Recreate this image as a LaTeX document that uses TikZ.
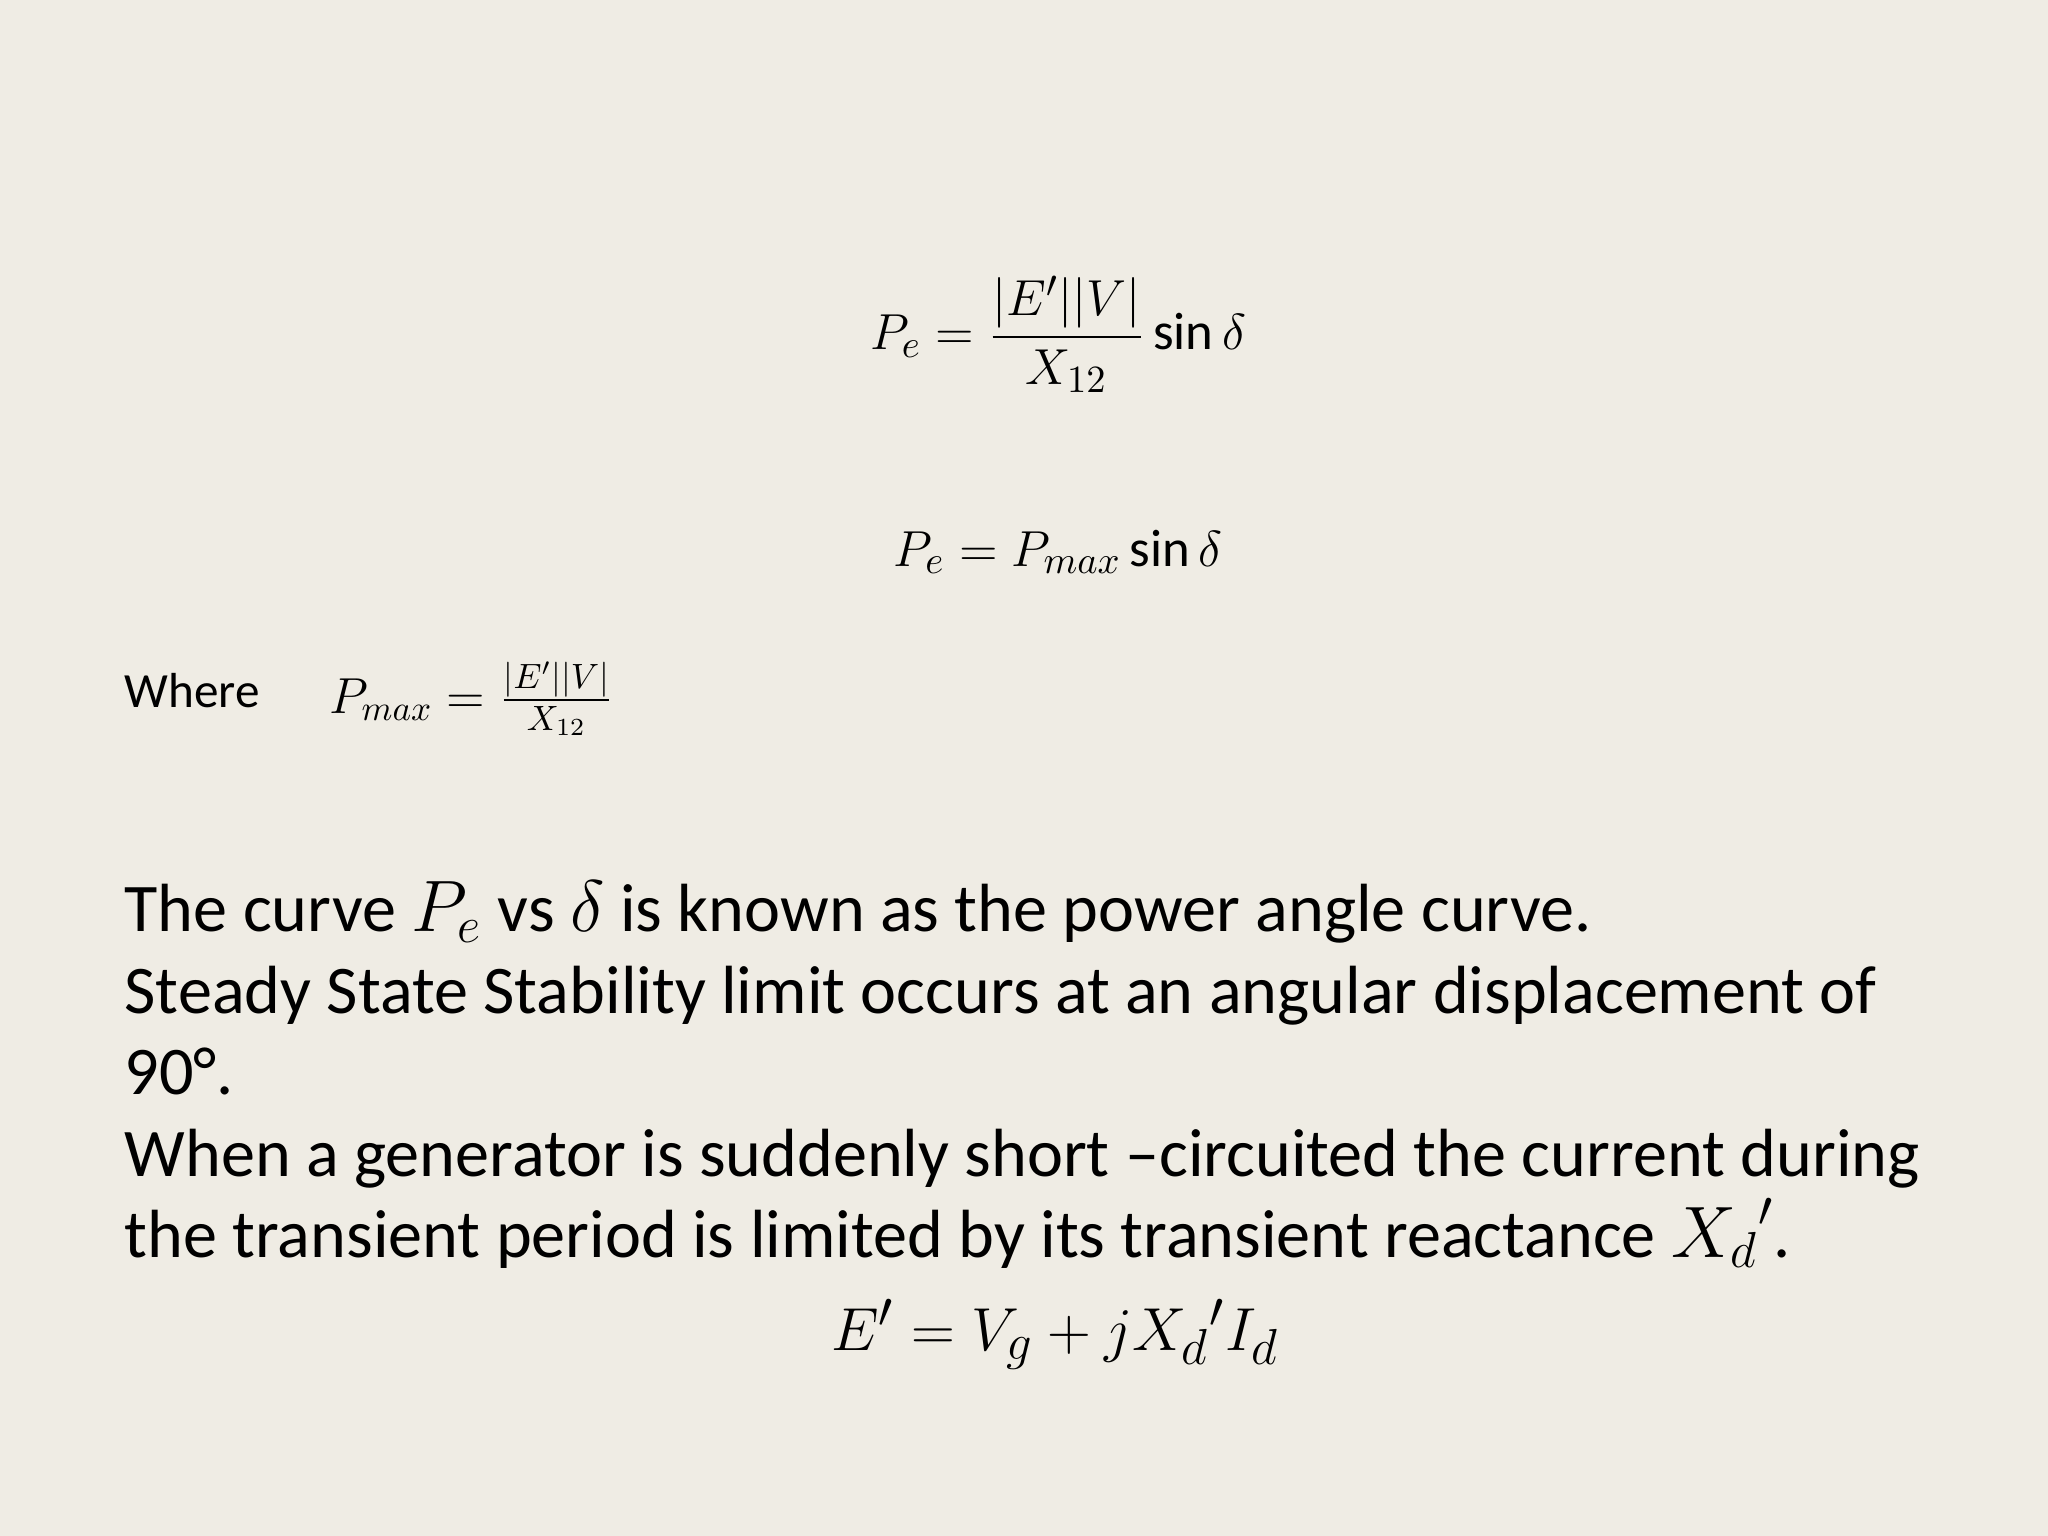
\documentclass[tikz,border=0pt]{standalone}
\usepackage{amsmath}
\usepackage{fontspec}
\setmainfont{Carlito}
\definecolor{bg}{HTML}{EFECE4}
\tikzset{txt/.style={anchor=base west,inner sep=0pt,font=\fontsize{19.4}{23}\selectfont}}
\begin{document}
\begin{tikzpicture}[x=1cm,y=-1cm]
\fill[bg] (0,0) rectangle (20.48,15.36);
\useasboundingbox (0,0) rectangle (20.48,15.36);
\node[inner sep=0pt,font=\fontsize{15}{18}\selectfont] (eqa) at (10.58,3.34) {$P_e=\dfrac{|E'||V|}{X_{12}}\sin\delta$};
\node[inner sep=0pt,font=\fontsize{15}{18}\selectfont] (eqb) at (10.58,5.52) {$P_e=P_{max}\sin\delta$};
\node[anchor=base west,inner sep=0pt,font=\fontsize{14}{17}\selectfont] (wh) at (1.24,7.08) {Where};
\node[anchor=west,inner sep=0pt,font=\fontsize{14}{17}\selectfont] (pm) at (3.29,6.99) {$P_{max}=\frac{|E'||V|}{X_{12}}$};
\node[txt] (l1) at (1.24,9.32) {The curve $P_e$ vs $\delta$ is known as the power angle curve.};
\node[txt] (l2) at (1.24,10.13) {Steady State Stability limit occurs at an angular displacement of};
\node[txt] (l3) at (1.24,10.95) {90°.};
\node[txt] (l4) at (1.24,11.76) {When a generator is suddenly short –circuited the current during};
\node[txt] (l5) at (1.24,12.57) {the transient period is limited by its transient reactance ${X_d}'$.};
\node[anchor=base,inner sep=0pt,font=\fontsize{19}{23}\selectfont] (eqc) at (10.55,13.50) {$E'=V_g+j{X_d}'I_d$};
\end{tikzpicture}
\end{document}
